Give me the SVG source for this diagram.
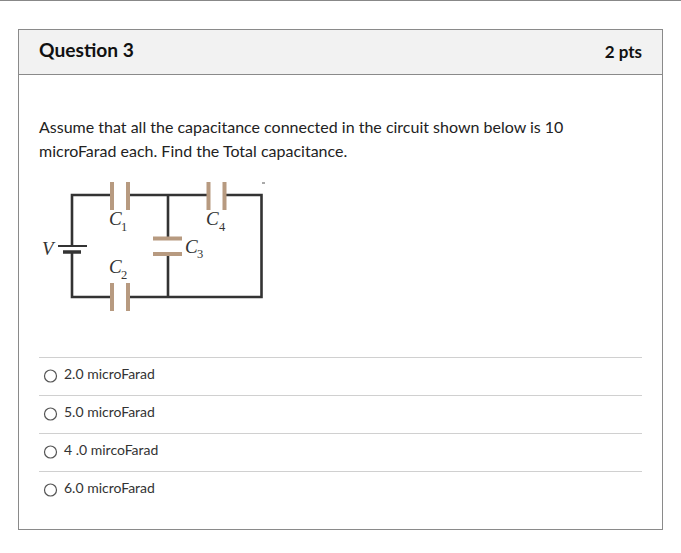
<svg xmlns="http://www.w3.org/2000/svg" width="681" height="553" viewBox="0 0 681 553">
<style>
text{font-family:Lato,"Liberation Sans",sans-serif;fill:#2d3b45}
.h{font-size:19.200px;font-weight:700;fill:#111}
.p{font-size:17px;font-weight:700;fill:#111}
.b{font-size:16px;fill:#222}
.o{font-size:14px;fill:#333}
.w{fill:none;stroke:#333;stroke-width:2.6}
.c{fill:none;stroke:#b79a80;stroke-width:4}
.m{font-family:"Liberation Serif",serif;font-style:italic;font-size:19px;fill:#333}
.s{font-family:"Liberation Serif",serif;font-size:12.500px;fill:#333}
.r{fill:#fff;stroke:#555;stroke-width:1.2}
.l{stroke:#d0d0d0;stroke-width:1}
</style>
<rect width="681" height="553" fill="#fff"/>
<line x1="0" y1="0.5" x2="681" y2="0.5" stroke="#888"/>
<g id="card">
<rect x="18.500" y="29.500" width="644" height="500" fill="#fff" stroke="#8a8a8a"/>
<rect x="18.500" y="29.500" width="644" height="45" fill="#f2f2f2" stroke="#8a8a8a"/>
<text class="h" x="39" y="57">Question 3</text>
<text class="p" x="642" y="58" text-anchor="end">2 pts</text>
<text class="b" x="39" y="133">Assume that all the capacitance connected in the circuit shown below is 10</text>
<text class="b" x="39" y="157">microFarad each. Find the Total capacitance.</text>
</g>
<g id="connectors">
<path class="w" d="M112 195H72V246M72 252V297H112M128 297H261.500V195H224M208 195H128M168 195V238M168 254V297"/>
<path d="M58 246H87" stroke="#333" stroke-width="2"/>
<path d="M63 252H81" stroke="#333" stroke-width="3.500"/>
</g>
<g id="C1"><path class="c" d="M112 182V210M128 182V210"/><text class="m" x="109" y="225">C</text><text class="s" x="121" y="231">1</text></g>
<g id="C4"><path class="c" d="M208.500 182V210M224.500 182V210"/><text class="m" x="206" y="225">C</text><text class="s" x="219" y="231">4</text></g>
<g id="C3"><path class="c" d="M153 238.500H182M153 254H182"/><text class="m" x="185" y="253">C</text><text class="s" x="197" y="258">3</text></g>
<g id="C2"><path class="c" d="M112 283V311M128 283V311"/><text class="m" x="109" y="273">C</text><text class="s" x="121" y="279">2</text></g>
<g id="V"><text class="m" x="42" y="255">V</text></g>
<g id="options">
<line class="l" x1="39" y1="357.500" x2="642" y2="357.500"/>
<line class="l" x1="39" y1="395.500" x2="642" y2="395.500"/>
<line class="l" x1="39" y1="433.500" x2="642" y2="433.500"/>
<line class="l" x1="39" y1="471.500" x2="642" y2="471.500"/>
<circle class="r" cx="50.500" cy="376" r="6"/><text class="o" x="64" y="379">2.0 microFarad</text>
<circle class="r" cx="50.500" cy="414" r="6"/><text class="o" x="64" y="417">5.0 microFarad</text>
<circle class="r" cx="50.500" cy="452" r="6"/><text class="o" x="64" y="455">4 .0 mircoFarad</text>
<circle class="r" cx="50.500" cy="490" r="6"/><text class="o" x="64" y="493">6.0 microFarad</text>
</g>
<path d="M262 183h3" stroke="#555"/>
</svg>
